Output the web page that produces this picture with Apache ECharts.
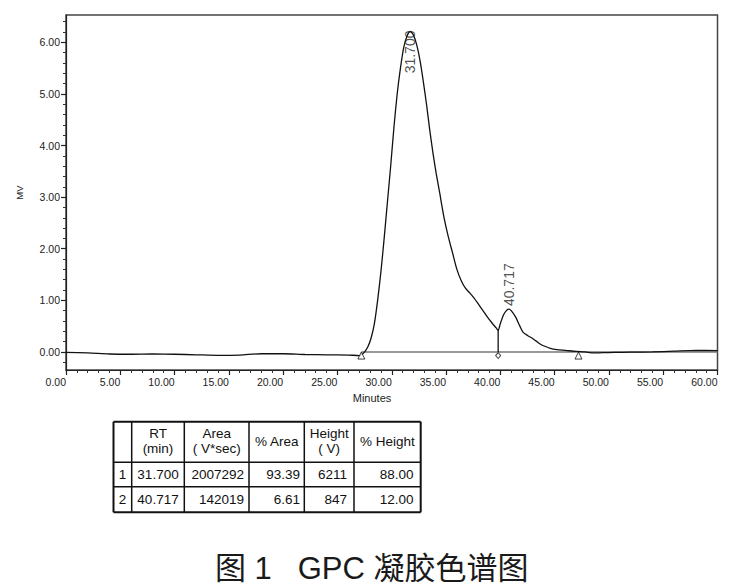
<!DOCTYPE html>
<html>
<head>
<meta charset="utf-8">
<script src="https://cdn.jsdelivr.net/npm/echarts@6/dist/echarts.min.js"></script>
<style>html,body{margin:0;padding:0;background:#fff;}#c{width:747px;height:586px;}</style>
</head>
<body>
<div id="c"></div>
<script>
// ---- data ----
const timeMin = [0,2,4,6,8,10,12,14,16,18,20,22,24,26,27,27.2,27.5,27.8,28.1,28.4,28.7,29.0,29.3,29.6,29.9,30.2,30.5,30.8,31.1,31.4,31.7,32.0,32.3,32.6,32.9,33.2,33.5,33.8,34.1,34.4,34.8,35.2,35.6,36.0,36.4,36.8,37.2,37.6,38.0,38.4,38.8,39.2,39.6,39.8,40.0,40.3,40.6,40.8,41.0,41.4,41.8,42.1,42.5,42.9,43.3,43.7,44.1,44.6,45.2,46.0,47.0,47.8,48.6,49.4,50.5,52,54,56,58,60];
const signalMV = [-0.01,-0.02,-0.04,-0.045,-0.04,-0.045,-0.055,-0.065,-0.06,-0.035,-0.035,-0.05,-0.055,-0.06,-0.07,-0.06,0.0,0.1,0.27,0.55,1.0,1.55,2.2,2.9,3.6,4.35,5.0,5.5,5.9,6.12,6.21,6.14,5.95,5.65,5.25,4.8,4.3,3.85,3.45,3.1,2.62,2.24,1.92,1.6,1.38,1.23,1.14,1.04,0.92,0.8,0.68,0.57,0.47,0.42,0.55,0.72,0.81,0.83,0.8,0.68,0.5,0.38,0.32,0.27,0.21,0.15,0.11,0.07,0.045,0.03,0.01,0.0,-0.02,-0.015,-0.01,-0.005,0.0,0.015,0.03,0.025];
const peakTime = [31.7, 40.8];
const peakMV = [6.21, 0.83];
const integStart = 27.2, integDrop = 39.8, integEnd = 47.2;
const dropTopMV = 0.42;
const markerMV = -0.07;
const yTicks = [0,1,2,3,4,5,6];
const yMinorTicks = [-0.2,0.2,0.4,0.6,0.8,1.2,1.4,1.6,1.8,2.2,2.4,2.6,2.8,3.2,3.4,3.6,3.8,4.2,4.4,4.6,4.8,5.2,5.4,5.6,5.8,6.2,6.4];
// table
const headerLines = [[''], ['RT','(min)'], ['Area','( V*sec)'], ['% Area'], ['Height','( V)'], ['% Height']];
const peakNo = ['1','2'];
const rt = ['31.700','40.717'];
const area = ['2007292','142019'];
const pctArea = ['93.39','6.61'];
const heightV = ['6211','847'];
const pctHeight = ['88.00','12.00'];
const caption = '图 1   GPC 凝胶色谱图';

// ---- build ----
const chart = echarts.init(document.getElementById('c'), null, {renderer:'svg'});
const FONT = 'Liberation Sans, Arial, sans-serif';
const signal = timeMin.map((t,i)=>[t, signalMV[i]]);
const fmt = v => v.toFixed(2);

const colX = [113.5, 131.7, 184.3, 249, 304.3, 354, 420.7];
const rowY = [421.7, 462.3, 486.7, 512.3];
const textX = [122.5, 158, 244, 300, 347, 413.5];
const colAlign = ['center','center','right','right','right','right'];
const graphics = [];
// table lines
for (let i=0;i<colX.length;i++){
  const outer = (i===0||i===colX.length-1);
  graphics.push({type:'line', shape:{x1:colX[i], y1:rowY[0], x2:colX[i], y2:rowY[rowY.length-1]}, style:{stroke:'#111', lineWidth: outer?2:1.5}});
}
for (let j=0;j<rowY.length;j++){
  const outer = (j===0||j===rowY.length-1);
  graphics.push({type:'line', shape:{x1:colX[0], y1:rowY[j], x2:colX[colX.length-1], y2:rowY[j]}, style:{stroke:'#111', lineWidth: outer?2:1.5}});
}
// header
headerLines.forEach((lines, c) => {
  const cx = (colX[c]+colX[c+1])/2;
  const ys = lines.length===2 ? [433.5, 448.5] : [441.7];
  lines.forEach((s, k) => {
    if (!s) return;
    graphics.push({type:'text', x:cx, y:ys[k], style:{text:s, fontSize:13.5, fontFamily:FONT, fill:'#111', align:'center', verticalAlign:'middle'}});
  });
});
// rows
const cols = [peakNo, rt, area, pctArea, heightV, pctHeight];
const rowCenters = [474.5, 499.5];
for (let r=0;r<peakNo.length;r++){
  cols.forEach((col, c) => {
    graphics.push({type:'text', x:textX[c], y:rowCenters[r], style:{text:col[r], fontSize:13.5, fontFamily:FONT, fill:'#111', align:colAlign[c], verticalAlign:'middle'}});
  });
}
// x-axis name
graphics.push({type:'text', x:372, y:397.5, style:{text:'Minutes', fontSize:11, fontFamily:FONT, fill:'#222', align:'center', verticalAlign:'middle'}});
// caption
graphics.push({type:'text', x:215, y:568.5, style:{text:caption, fontSize:31, fontFamily:'Liberation Sans, "Noto Sans CJK SC", sans-serif', fill:'#1a1a1a', align:'left', verticalAlign:'middle'}});

const option = {
  animation:false,
  backgroundColor:'#fff',
  grid:{left:66, right:29.5, top:15, bottom:216, show:true, borderColor:'#444', borderWidth:1.5, containLabel:false, outerBoundsMode:'none'},
  xAxis:{
    type:'value', min:0, max:60, interval:5,
    axisLine:{onZero:false, lineStyle:{color:'#222', width:1.2}},
    axisTick:{length:5, lineStyle:{color:'#222', width:1.2}},
    minorTick:{show:true, splitNumber:5, length:3, lineStyle:{color:'#333'}},
    splitLine:{show:false}, minorSplitLine:{show:false},
    axisLabel:{align:'right', margin:6, fontSize:10.5, color:'#222', fontFamily:FONT, formatter:fmt}
  },
  yAxis:[{
    type:'value', min:-0.35, max:6.53,
    name:'MV', nameLocation:'middle', nameGap:42, nameRotate:90,
    nameTextStyle:{fontSize:9.5, color:'#222', fontFamily:FONT},
    axisLine:{show:true, lineStyle:{color:'#222', width:1.2}},
    axisTick:{show:true, length:5, customValues:yTicks, lineStyle:{color:'#222', width:1.2}},
    axisLabel:{customValues:yTicks, margin:6, fontSize:10.5, color:'#222', fontFamily:FONT, formatter:fmt},
    splitLine:{show:false}
  },{
    type:'value', min:-0.35, max:6.53, position:'left', offset:0,
    axisLine:{show:false},
    axisTick:{show:true, length:3, customValues:yMinorTicks, lineStyle:{color:'#333'}},
    axisLabel:{show:false},
    splitLine:{show:false}
  }],
  series:[
    {type:'line', name:'baseline', data:[[integStart,0],[60,0]], symbol:'none', lineStyle:{color:'#777', width:1.6}, z:1},
    {type:'line', name:'signal', data:signal, symbol:'none', smooth:0.25, lineStyle:{color:'#111', width:1.3}, z:3},
    {type:'line', name:'drop', data:[[integDrop,dropTopMV],[integDrop,0]], symbol:'none', lineStyle:{color:'#111', width:1.3}, z:3},
    {type:'scatter', name:'marks', symbol:'triangle', symbolSize:7,
     itemStyle:{color:'#fff', borderColor:'#111', borderWidth:1},
     data:[[integStart,markerMV],[integEnd,markerMV]], z:4},
    {type:'scatter', name:'dropmark', symbol:'diamond', symbolSize:[5,6],
     itemStyle:{color:'#fff', borderColor:'#111', borderWidth:1},
     data:[[integDrop,markerMV]], z:4},
    {type:'scatter', name:'peaks', symbolSize:0, z:5,
     data:[
       {value:[peakTime[0],peakMV[0]], label:{show:true, formatter:rt[0], position:'bottom', distance:-1, rotate:90, align:'right', verticalAlign:'middle'}},
       {value:[peakTime[1],peakMV[1]], label:{show:true, formatter:rt[1], position:'top', distance:3, rotate:90, align:'left', verticalAlign:'middle'}}
     ],
     label:{fontSize:14, color:'#222', fontFamily:FONT}
    }
  ],
  graphic:graphics
};
chart.setOption(option);
</script>
</body>
</html>
